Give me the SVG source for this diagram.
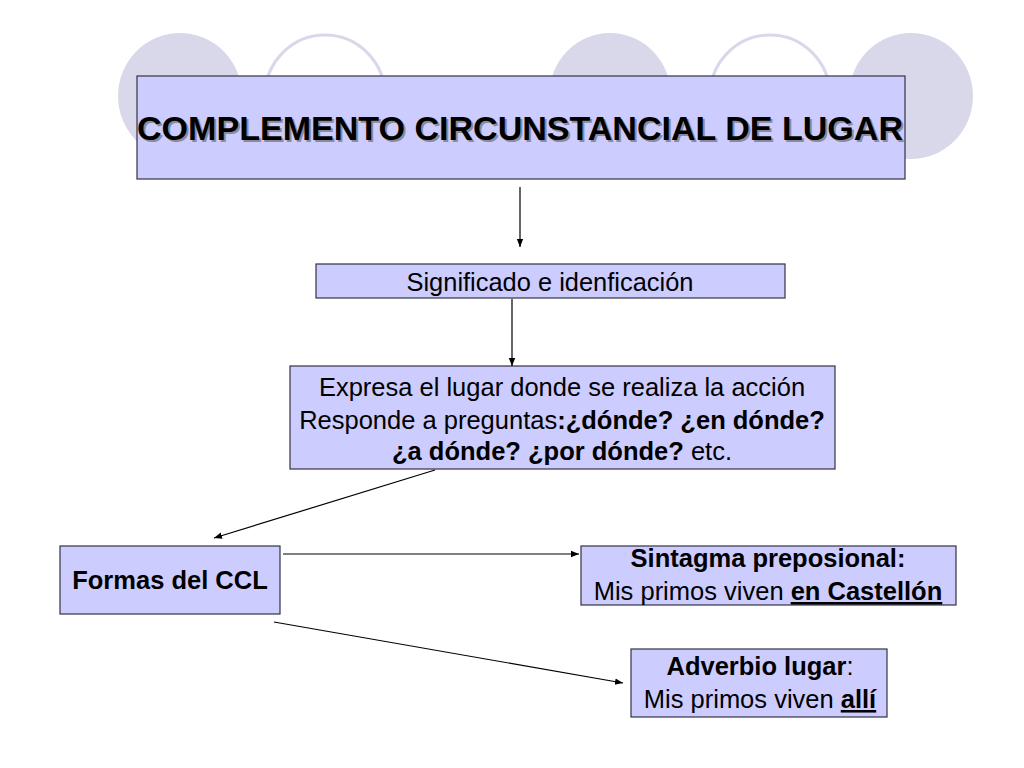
<svg xmlns="http://www.w3.org/2000/svg" width="1024" height="768" viewBox="0 0 1024 768">
<defs>
<marker id="ah" viewBox="0 0 10 10" refX="10" refY="5" markerWidth="8" markerHeight="8" markerUnits="userSpaceOnUse" orient="auto">
<path d="M0,1 L10,5 L0,9 z" fill="#000"/>
</marker>
</defs>
<style>
.box{fill:#ccccff;stroke:#333344;stroke-width:1.2}
.t{font-family:"Liberation Sans",Arial,sans-serif;fill:#000;text-anchor:middle;font-size:25.5px}
.b{font-weight:bold}
.c{stroke:#000;stroke-width:1.2;fill:none;marker-end:url(#ah)}
.fc{fill:#d8d8ea}
.oc{fill:#fff;stroke:#d8d8ea;stroke-width:3}
</style>
<rect width="1024" height="768" fill="#fff"/>
<g id="bg">
<ellipse class="fc" cx="180" cy="96" rx="62" ry="63"/>
<ellipse class="oc" cx="325" cy="96" rx="60" ry="61"/>
<ellipse class="fc" cx="610" cy="96" rx="61" ry="63"/>
<ellipse class="oc" cx="770" cy="96" rx="60" ry="61"/>
<ellipse class="fc" cx="911" cy="96" rx="62" ry="63"/>
</g>
<g id="title">
<rect class="box" x="137" y="76" width="768" height="103"/>
<text class="t b" x="522" y="142" style="font-size:34px;fill:#8a8a9a" textLength="766" lengthAdjust="spacingAndGlyphs">COMPLEMENTO CIRCUNSTANCIAL DE LUGAR</text>
<text class="t b" x="520" y="140" style="font-size:34px" textLength="766" lengthAdjust="spacingAndGlyphs">COMPLEMENTO CIRCUNSTANCIAL DE LUGAR</text>
</g>
<g id="significado">
<rect class="box" x="316" y="264" width="469" height="34"/>
<text class="t" x="550" y="291" textLength="287" lengthAdjust="spacingAndGlyphs">Significado e idenficación</text>
</g>
<g id="expresa">
<rect class="box" x="290" y="366" width="545" height="103"/>
<text class="t" x="562" y="396">Expresa el lugar donde se realiza la acción</text>
<text class="t" x="562" y="429">Responde a preguntas<tspan class="b">:¿dónde? ¿en dónde?</tspan></text>
<text class="t" x="562" y="460"><tspan class="b">¿a dónde? ¿por dónde?</tspan> etc.</text>
</g>
<g id="formas">
<rect class="box" x="60" y="546" width="220" height="68"/>
<text class="t b" x="170" y="589">Formas del CCL</text>
</g>
<g id="sintagma">
<rect class="box" x="581" y="546" width="375" height="59"/>
<text class="t b" x="768" y="567">Sintagma preposional:</text>
<text class="t" x="768" y="600">Mis primos viven <tspan class="b" text-decoration="underline">en Castellón</tspan></text>
</g>
<g id="adverbio">
<rect class="box" x="631" y="649" width="256" height="68"/>
<text class="t" x="760" y="675"><tspan class="b">Adverbio lugar</tspan>:</text>
<text class="t" x="760" y="708">Mis primos viven <tspan class="b" text-decoration="underline">allí</tspan></text>
</g>
<g id="connectors">
<line class="c" x1="520" y1="187" x2="520" y2="247"/>
<line class="c" x1="512" y1="299" x2="512" y2="366"/>
<line class="c" x1="435" y1="470" x2="214" y2="538"/>
<line class="c" x1="283" y1="554" x2="579" y2="554"/>
<line class="c" x1="274" y1="622" x2="623" y2="683"/>
</g>
</svg>
